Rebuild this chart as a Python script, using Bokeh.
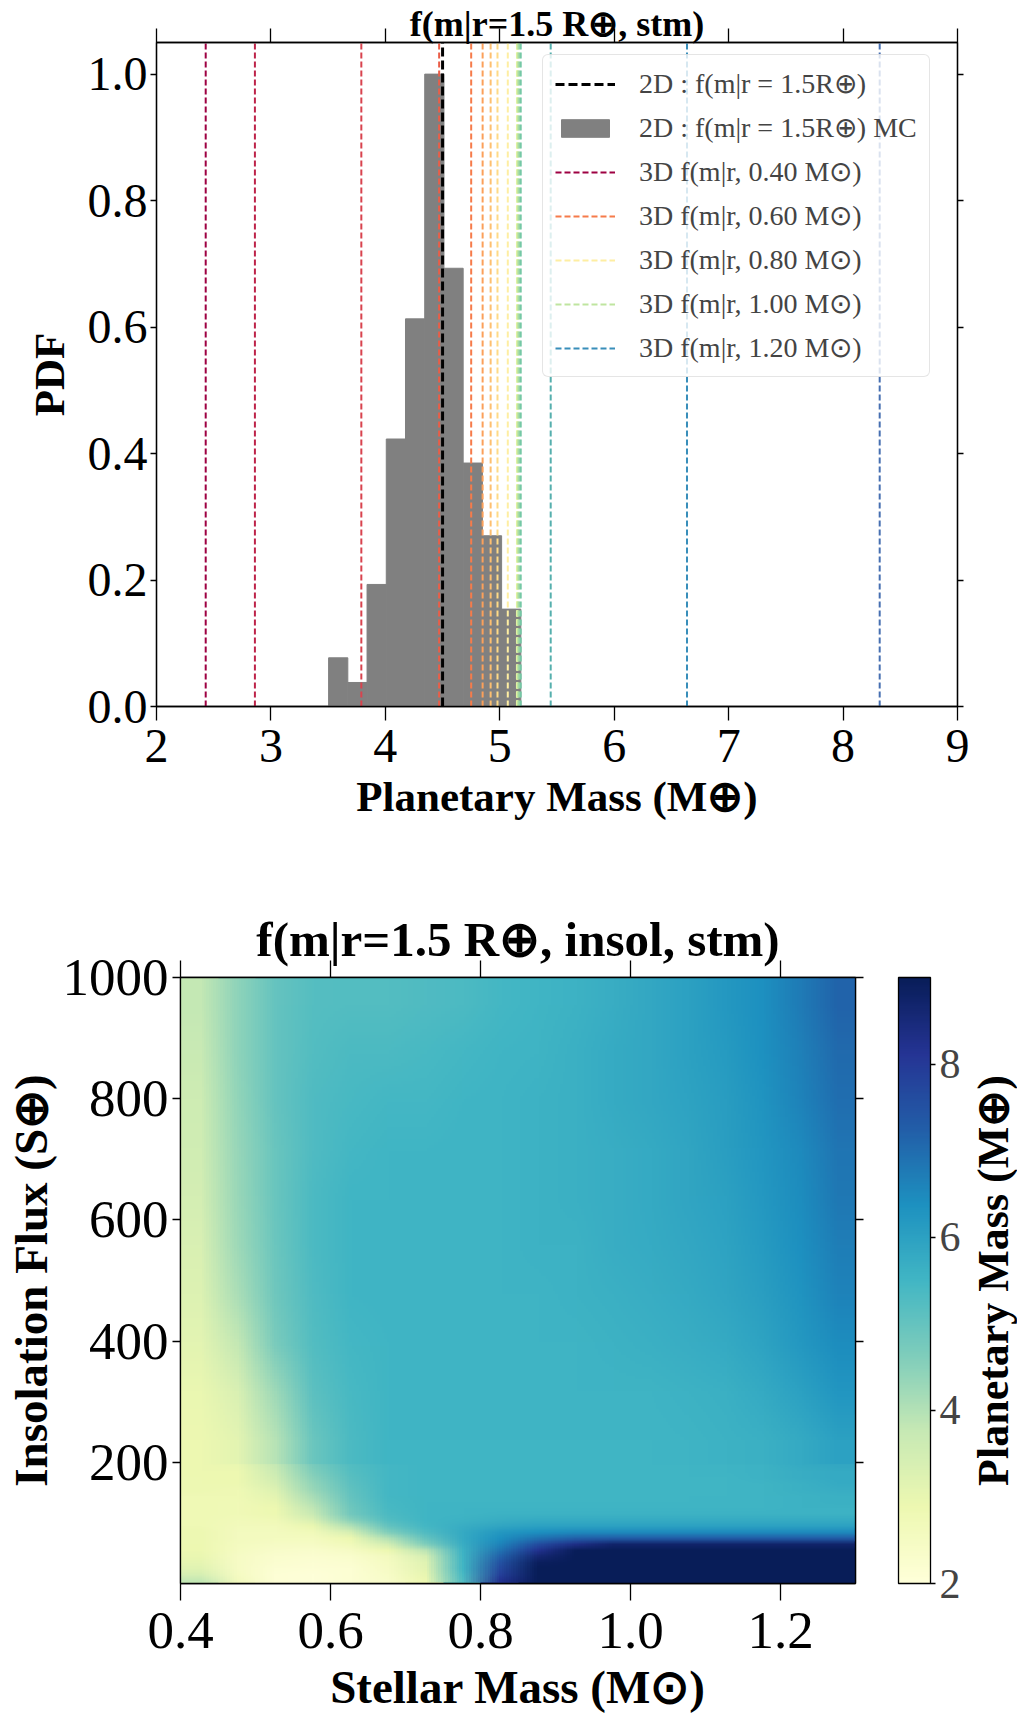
import base64
import struct
import zlib

import numpy as np
from bokeh.plotting import figure
from bokeh.layouts import column, row
from bokeh.models import (LinearAxis, FixedTicker, PrintfTickFormatter, Legend,
                          LegendItem, LinearColorMapper, ColorBar, Range1d, ColumnDataSource)
from bokeh.embed import file_html
from bokeh.resources import INLINE

SERIF = "Liberation Serif"

# ---------------- data: top panel ----------------
hist_edges = [3.504, 3.672, 3.840, 4.008, 4.176, 4.344, 4.512, 4.680, 4.848, 5.016, 5.184]
hist_pdf = [0.077, 0.038, 0.193, 0.423, 0.613, 1.000, 0.693, 0.385, 0.270, 0.154]
mass_2d = 4.50
stellar_masses = [0.40, 0.45, 0.50, 0.55, 0.60, 0.65, 0.70, 0.75, 0.80,
                  0.85, 0.90, 0.95, 1.00, 1.05, 1.10, 1.15, 1.20, 1.25]
mass_3d = [2.43, 2.86, 3.79, 4.47, 4.75, 4.85, 4.92, 4.98, 5.07,
           5.150, 5.152, 5.155, 5.157, 5.170, 5.183, 5.445, 6.636, 8.32]
legend_masses = [0.40, 0.60, 0.80, 1.00, 1.20]
x_ticks_top = [2, 3, 4, 5, 6, 7, 8, 9]
y_ticks_top = [0.0, 0.2, 0.4, 0.6, 0.8, 1.0]

# ---------------- data: bottom panel (heat map) ----------------
stellar_mass_cols = [0.425, 0.475, 0.525, 0.575, 0.625, 0.675, 0.725, 0.775, 0.825,
                     0.875, 0.925, 0.975, 1.025, 1.075, 1.125, 1.175, 1.225, 1.275]
insol_rows_low = [5, 15, 25, 35, 45, 55, 65, 75, 85, 95, 105, 115,
                  125, 135, 145, 155, 165, 175, 185, 195]
planet_mass_low = [
    [3.8, 2.6, 2.1, 2.05, 2.15, 2.35, 2.9, 5.3, 8.2, 9.0, 9.0, 9.0, 9.0, 9.0, 9.0, 9.0, 9.0, 9.0],
    [3.4, 2.5, 2.1, 2.05, 2.15, 2.4, 3.0, 5.4, 7.9, 9.0, 9.0, 9.0, 9.0, 9.0, 9.0, 9.0, 9.0, 9.0],
    [3.2, 2.45, 2.15, 2.1, 2.15, 2.45, 3.1, 5.5, 7.7, 9.0, 9.0, 9.0, 9.0, 9.0, 9.0, 9.0, 9.0, 9.0],
    [3.05, 2.45, 2.2, 2.15, 2.2, 2.5, 3.2, 5.5, 7.5, 8.9, 9.0, 9.0, 9.0, 9.0, 9.0, 9.0, 9.0, 9.0],
    [2.95, 2.45, 2.25, 2.2, 2.3, 2.6, 3.4, 5.55, 7.2, 8.6, 9.0, 9.0, 9.0, 9.0, 9.0, 9.0, 9.0, 9.0],
    [2.9, 2.5, 2.35, 2.3, 2.45, 2.9, 3.9, 5.6, 6.9, 8.2, 8.95, 9.0, 9.0, 9.0, 9.0, 9.0, 9.0, 9.0],
    [2.85, 2.55, 2.45, 2.45, 2.7, 3.5, 4.6, 5.7, 6.6, 7.6, 8.3, 8.7, 8.7, 8.7, 8.7, 8.7, 8.7, 8.7],
    [2.85, 2.6, 2.55, 2.55, 2.9, 4.0, 5.0, 5.8, 6.4, 6.9, 7.2, 7.3, 7.3, 7.3, 7.3, 7.3, 7.3, 7.3],
    [2.85, 2.6, 2.6, 2.7, 3.4, 4.6, 5.3, 5.8, 6.2, 6.4, 6.5, 6.5, 6.5, 6.5, 6.5, 6.5, 6.5, 6.5],
    [2.8, 2.65, 2.65, 2.95, 4.0, 5.0, 5.45, 5.7, 5.9, 6.0, 6.0, 6.0, 6.0, 6.0, 6.0, 6.0, 6.0, 6.0],
    [2.8, 2.7, 2.75, 3.35, 4.5, 5.25, 5.5, 5.6, 5.7, 5.75, 5.75, 5.75, 5.75, 5.75, 5.75, 5.75, 5.75, 5.75],
    [2.8, 2.75, 2.85, 3.7, 4.8, 5.35, 5.5, 5.55, 5.6, 5.6, 5.6, 5.6, 5.6, 5.6, 5.6, 5.6, 5.6, 5.6],
    [2.8, 2.75, 2.9, 3.85, 4.85, 5.4, 5.5, 5.55, 5.55, 5.55, 5.55, 5.55, 5.55, 5.55, 5.55, 5.55, 5.6, 5.6],
    [2.8, 2.75, 3.0, 4.0, 4.95, 5.42, 5.5, 5.5, 5.5, 5.5, 5.5, 5.5, 5.5, 5.5, 5.55, 5.55, 5.6, 5.65],
    [2.8, 2.8, 3.1, 4.15, 5.0, 5.45, 5.5, 5.5, 5.5, 5.5, 5.5, 5.5, 5.5, 5.5, 5.5, 5.55, 5.6, 5.65],
    [2.85, 2.8, 3.25, 4.3, 5.05, 5.45, 5.5, 5.5, 5.5, 5.5, 5.5, 5.5, 5.5, 5.5, 5.5, 5.55, 5.65, 5.7],
    [2.85, 2.85, 3.4, 4.4, 5.1, 5.45, 5.5, 5.5, 5.5, 5.5, 5.5, 5.5, 5.5, 5.5, 5.5, 5.55, 5.65, 5.75],
    [2.85, 2.9, 3.55, 4.5, 5.15, 5.45, 5.5, 5.5, 5.5, 5.5, 5.5, 5.5, 5.5, 5.5, 5.5, 5.6, 5.7, 5.8],
    [2.9, 2.9, 3.65, 4.6, 5.2, 5.45, 5.5, 5.5, 5.5, 5.5, 5.5, 5.5, 5.5, 5.5, 5.55, 5.6, 5.7, 5.8],
    [2.9, 2.95, 3.75, 4.7, 5.25, 5.45, 5.5, 5.5, 5.5, 5.5, 5.5, 5.5, 5.5, 5.5, 5.55, 5.6, 5.75, 5.85],
]
insol_rows_high = [240, 320, 400, 480, 560, 640, 720, 800, 880, 960]
planet_mass_high = [
    [2.9, 3.1, 3.95, 4.9, 5.35, 5.5, 5.5, 5.5, 5.5, 5.5, 5.5, 5.5, 5.5, 5.55, 5.6, 5.65, 5.8, 6.0],
    [2.95, 3.35, 4.25, 5.1, 5.4, 5.5, 5.55, 5.55, 5.55, 5.55, 5.55, 5.55, 5.55, 5.6, 5.65, 5.8, 6.0, 6.25],
    [3.1, 3.8, 4.7, 5.25, 5.45, 5.5, 5.55, 5.55, 5.55, 5.55, 5.55, 5.6, 5.65, 5.7, 5.8, 5.95, 6.2, 6.45],
    [3.25, 4.1, 4.85, 5.3, 5.5, 5.55, 5.55, 5.55, 5.55, 5.55, 5.6, 5.65, 5.7, 5.8, 5.9, 6.05, 6.3, 6.6],
    [3.35, 4.25, 4.9, 5.35, 5.5, 5.55, 5.55, 5.55, 5.55, 5.6, 5.6, 5.7, 5.75, 5.85, 5.95, 6.15, 6.4, 6.7],
    [3.45, 4.3, 4.95, 5.35, 5.5, 5.5, 5.55, 5.55, 5.55, 5.6, 5.65, 5.7, 5.8, 5.9, 6.0, 6.2, 6.45, 6.8],
    [3.55, 4.35, 4.95, 5.3, 5.45, 5.5, 5.5, 5.55, 5.55, 5.6, 5.65, 5.7, 5.8, 5.9, 6.05, 6.25, 6.5, 6.85],
    [3.6, 4.4, 5.0, 5.3, 5.4, 5.45, 5.45, 5.5, 5.55, 5.6, 5.65, 5.75, 5.85, 5.95, 6.1, 6.3, 6.6, 6.95],
    [3.7, 4.45, 5.0, 5.25, 5.35, 5.35, 5.4, 5.45, 5.5, 5.55, 5.65, 5.75, 5.85, 6.0, 6.15, 6.35, 6.65, 7.05],
    [3.8, 4.45, 5.0, 5.2, 5.25, 5.25, 5.3, 5.35, 5.45, 5.5, 5.6, 5.7, 5.85, 6.0, 6.2, 6.4, 6.75, 7.15],
]
x_ticks_bottom = [0.4, 0.6, 0.8, 1.0, 1.2]
y_ticks_bottom = [200, 400, 600, 800, 1000]
cbar_ticks = [2, 4, 6, 8]
cbar_low, cbar_high = 2, 9

# ---------------- colour helpers (style) ----------------
SPECTRAL = ['#9e0142', '#d53e4f', '#f46d43', '#fdae61', '#fee08b', '#ffffbf',
            '#e6f598', '#abdda4', '#66c2a5', '#3288bd', '#5e4fa2']
YLGNBU = ['#ffffd9', '#edf8b1', '#c7e9b4', '#7fcdbb', '#41b6c4', '#1d91c0',
          '#225ea8', '#253494', '#081d58']


def _rgb(h):
    return [int(h[i:i + 2], 16) for i in (1, 3, 5)]


def sample_cmap(anchors, t):
    rgb = np.array([_rgb(h) for h in anchors], float)
    pos = np.linspace(0, 1, len(anchors))
    return '#%02x%02x%02x' % tuple(int(round(np.interp(t, pos, rgb[:, k]))) for k in range(3))


palette256 = [sample_cmap(YLGNBU, t) for t in np.linspace(0, 1, 256)]


def grid_png_url(grid):
    """Encode a value grid (rows from low to high y) as a PNG, coloured like the colour mapper."""
    arr = np.array(grid, float)[::-1]
    h, w = arr.shape
    raw = bytearray()
    for line in arr:
        raw.append(0)
        for v in line:
            k = int(np.clip((v - cbar_low) / (cbar_high - cbar_low) * 256, 0, 255))
            raw.extend(_rgb(palette256[k]) + [255])

    def chunk(tag, data):
        return (struct.pack(">I", len(data)) + tag + data +
                struct.pack(">I", zlib.crc32(tag + data) & 0xffffffff))

    png = (b"\x89PNG\r\n\x1a\n" + chunk(b"IHDR", struct.pack(">IIBBBBB", w, h, 8, 6, 0, 0, 0)) +
           chunk(b"IDAT", zlib.compress(bytes(raw))) + chunk(b"IEND", b""))
    return "data:image/png;base64," + base64.b64encode(png).decode()


def style_axis(ax, label_size, tick_out, standoff):
    ax.major_label_text_font = SERIF
    ax.major_label_text_font_size = label_size
    ax.major_label_text_color = "black"
    ax.major_tick_out = tick_out
    ax.major_tick_in = 0
    ax.minor_tick_line_color = None
    ax.axis_line_color = "black"
    ax.major_tick_line_color = "black"
    ax.axis_line_width = 1.3
    ax.major_tick_line_width = 1.3
    ax.major_label_standoff = standoff
    ax.axis_label_text_font = SERIF
    ax.axis_label_text_font_style = "bold"
    ax.axis_label_text_color = "black"


def blank_axis(ticks, tick_out):
    ax = LinearAxis(ticker=FixedTicker(ticks=ticks))
    style_axis(ax, "0px", tick_out, 0)
    ax.major_label_text_alpha = 0
    return ax


def no_align(p):
    try:
        p.frame_align = False
    except Exception:
        pass


# ================= top panel =================
p1 = figure(width=1017, height=840, x_range=Range1d(2, 9), y_range=Range1d(0, 1.05),
            output_backend="svg", toolbar_location=None,
            min_border_left=156, min_border_right=60, min_border_top=41, min_border_bottom=134)
no_align(p1)
p1.grid.visible = False
p1.outline_line_color = "black"
p1.outline_line_width = 1.3

hist_src = ColumnDataSource(dict(left=hist_edges[:-1], right=hist_edges[1:], top=hist_pdf,
                                 bottom=[0.0] * len(hist_pdf)))
r_hist = p1.quad(left="left", right="right", top="top", bottom="bottom", source=hist_src,
                 fill_color="#808080", line_color="#808080", line_width=1)

n3 = len(mass_3d)
seg_src = ColumnDataSource(dict(x=mass_3d, y0=[0.0] * n3, y1=[1.05] * n3,
                                color=[sample_cmap(SPECTRAL, (m - 0.4) / 0.9) for m in stellar_masses]))
r_3d = p1.segment(x0="x", y0="y0", x1="x", y1="y1", line_color="color", line_width=2,
                  line_dash="6 3", source=seg_src)
r_2d = p1.segment(x0=[mass_2d], y0=[0.0], x1=[mass_2d], y1=[1.05], line_color="black",
                  line_width=3, line_dash="9 4")

p1.xaxis.ticker = FixedTicker(ticks=x_ticks_top)
p1.yaxis.ticker = FixedTicker(ticks=y_ticks_top)
p1.yaxis.formatter = PrintfTickFormatter(format="%.1f")
style_axis(p1.xaxis[0], "48px", 14, 9)
style_axis(p1.yaxis[0], "48px", 6, 3)
p1.xaxis.axis_label = "Planetary Mass (M⊕)"
p1.xaxis.axis_label_text_font_size = "43px"
p1.xaxis.axis_label_standoff = 8
p1.yaxis.axis_label = "PDF"
p1.yaxis.axis_label_text_font_size = "43px"
p1.yaxis.axis_label_standoff = 12

top1 = blank_axis(x_ticks_top, 14)
top1.axis_label = "f(m|r=1.5 R⊕, stm)"
top1.axis_label_text_font_size = "36px"
top1.axis_label_standoff = -15
p1.add_layout(top1, "above")
p1.add_layout(blank_axis(y_ticks_top, 6), "right")

items = [LegendItem(label="2D : f(m|r = 1.5R⊕)", renderers=[r_2d]),
         LegendItem(label="2D : f(m|r = 1.5R⊕) MC", renderers=[r_hist])]
for m in legend_masses:
    items.append(LegendItem(label="3D f(m|r, %.2f M⊙)" % m, renderers=[r_3d],
                            index=stellar_masses.index(m)))
legend = Legend(items=items, location=(386, 329), margin=0, padding=12,
                glyph_width=60, glyph_height=22, label_height=28, spacing=11, label_standoff=24,
                label_text_font=SERIF, label_text_font_size="28px",
                border_line_color="#cccccc", border_line_width=1.3,
                background_fill_color="white", background_fill_alpha=0.8)
try:
    legend.border_radius = 6
except Exception:
    pass
p1.add_layout(legend)

# ================= bottom panel =================
mapper = LinearColorMapper(palette=palette256, low=cbar_low, high=cbar_high)

p2 = figure(width=965, height=876, x_range=Range1d(0.4, 1.3), y_range=Range1d(0, 1000),
            output_backend="svg", toolbar_location=None,
            min_border_left=180, min_border_right=110, min_border_top=137, min_border_bottom=133)
no_align(p2)
p2.grid.visible = False
p2.outline_line_color = "black"
p2.outline_line_width = 1.3

dx = stellar_mass_cols[1] - stellar_mass_cols[0]
x0 = stellar_mass_cols[0] - dx / 2
dw = dx * len(stellar_mass_cols)
blocks = ((insol_rows_low, planet_mass_low, 0.0), (insol_rows_high, planet_mass_high, 3.0))
for rows, grid, overlap in blocks:
    dy = rows[1] - rows[0]
    y0 = rows[0] - dy / 2
    dh = dy * len(rows)
    # cells through the colour mapper ...
    p2.image(image=[np.array(grid)], x=x0, y=y0, dw=dw, dh=dh, color_mapper=mapper)
for rows, grid, overlap in blocks:
    dy = rows[1] - rows[0]
    y0 = rows[0] - dy / 2
    dh = dy * len(rows)
    # ... and the same cells again as a browser-smoothed picture on top
    # (the upper block reaches a hair below its edge so that no seam shows)
    p2.image_url(url=[grid_png_url(grid)], x=x0, y=y0 + dh, w=dw, h=dh + overlap,
                 anchor="top_left")

p2.xaxis.ticker = FixedTicker(ticks=x_ticks_bottom)
p2.xaxis.formatter = PrintfTickFormatter(format="%.1f")
p2.yaxis.ticker = FixedTicker(ticks=y_ticks_bottom)
style_axis(p2.xaxis[0], "53px", 17, 12)
style_axis(p2.yaxis[0], "53px", 8, 4)
p2.xaxis.axis_label = "Stellar Mass (M⊙)"
p2.xaxis.axis_label_text_font_size = "47px"
p2.xaxis.axis_label_standoff = 10
p2.yaxis.axis_label = "Insolation Flux (S⊕)"
p2.yaxis.axis_label_text_font_size = "47px"
p2.yaxis.axis_label_standoff = 3

top2 = blank_axis(x_ticks_bottom, 17)
top2.axis_label = "f(m|r=1.5 R⊕, insol, stm)"
top2.axis_label_text_font_size = "49px"
top2.axis_label_standoff = -6
p2.add_layout(top2, "above")

rax = blank_axis(y_ticks_bottom, 8)
rax.axis_label = " "
rax.axis_label_text_font_size = "29px"
rax.axis_label_standoff = 0
p2.add_layout(rax, "right")

cb = ColorBar(color_mapper=mapper, ticker=FixedTicker(ticks=cbar_ticks), width=32,
              padding=0, margin=0, major_tick_out=5, major_tick_in=0,
              major_tick_line_color="black", major_tick_line_width=1.3,
              bar_line_color="black", bar_line_width=1.3, minor_tick_line_color=None,
              major_label_text_font=SERIF, major_label_text_font_size="42px",
              label_standoff=4, border_line_color=None, background_fill_alpha=0)
p2.add_layout(cb, "right")

# colour-bar title: a thin companion figure whose left-axis label reads bottom-to-top
p3 = figure(width=52, height=876, x_range=Range1d(0, 1), y_range=Range1d(cbar_low, cbar_high),
            output_backend="svg", toolbar_location=None,
            min_border_left=50, min_border_right=0, min_border_top=137, min_border_bottom=133)
no_align(p3)
p3.grid.visible = False
p3.outline_line_color = None
p3.xaxis.visible = False
p3.yaxis.ticker = FixedTicker(ticks=[])
style_axis(p3.yaxis[0], "0px", 0, 0)
p3.yaxis.axis_line_color = None
p3.yaxis.major_label_text_alpha = 0
p3.yaxis.axis_label = "Planetary Mass (M⊕)"
p3.yaxis.axis_label_text_font_size = "44px"
p3.yaxis.axis_label_standoff = 0

layout = column(p1, row(p2, p3, spacing=0), spacing=0)
open("out.html", "w").write(file_html(layout, INLINE))
